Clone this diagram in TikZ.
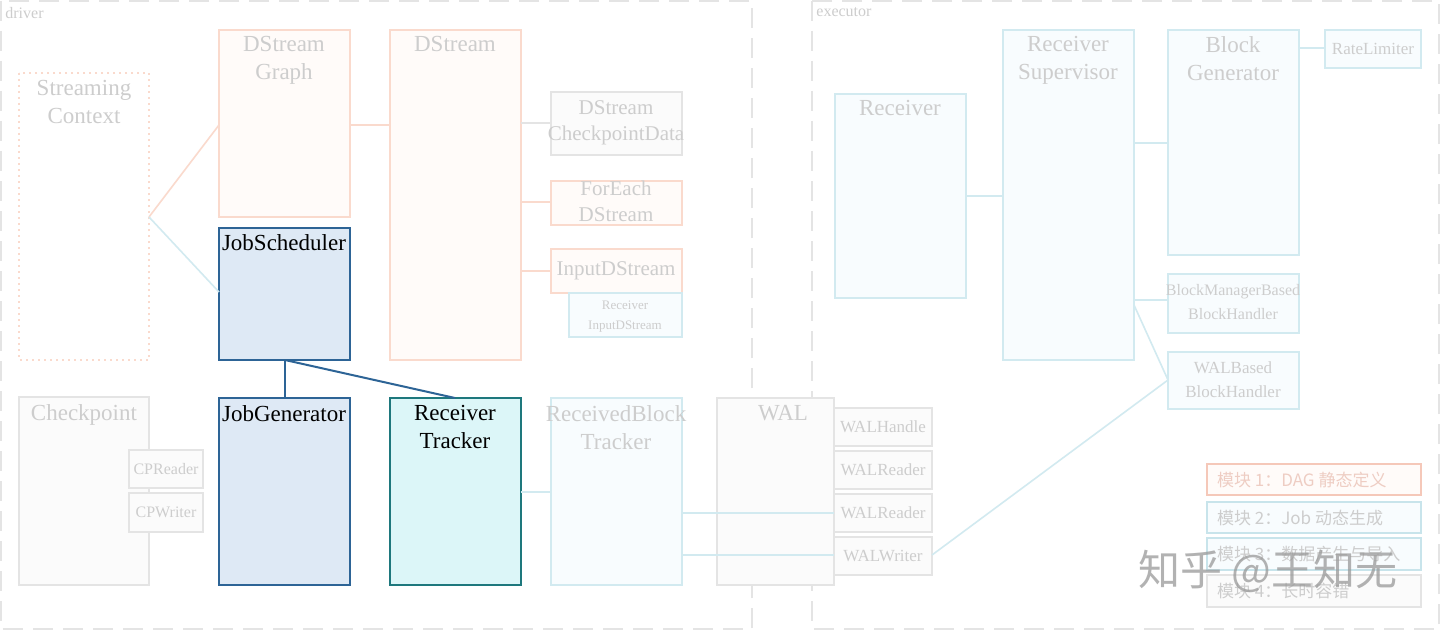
\documentclass[tikz,border=0pt]{standalone}
\usepackage{fontspec}
\setmainfont{Liberation Serif}
\newfontfamily\cjk{Noto Sans CJK SC}
\begin{document}
\begin{tikzpicture}[x=0.5pt,y=-0.5pt,
  txt/.style={font=\fontsize{11.5}{14}\selectfont},
  ob/.style={draw=orB,fill=orF,line width=0.8pt},
  gb/.style={draw=grB,fill=grF,line width=0.8pt},
  tb/.style={draw=tlB,fill=tlF,line width=0.8pt},
  oline/.style={draw=orB,line width=0.8pt},
  tline/.style={draw=tlB,line width=0.8pt},
  gline/.style={draw=grB,line width=0.8pt},
  lbl/.style={anchor=north,align=center,txt,inner sep=0pt}]
\definecolor{orB}{RGB}{250,218,205}\definecolor{orF}{RGB}{255,251,249}
\definecolor{grB}{RGB}{228,228,228}\definecolor{grF}{RGB}{251,251,251}
\definecolor{tlB}{RGB}{210,234,240}\definecolor{tlF}{RGB}{248,252,254}
\definecolor{ftxt}{RGB}{205,205,205}\definecolor{otxt}{RGB}{238,205,195}
\definecolor{jsF}{RGB}{222,233,245}\definecolor{jsB}{RGB}{45,100,150}
\definecolor{rtF}{RGB}{220,246,248}\definecolor{rtB}{RGB}{30,120,125}
\useasboundingbox (0,0) rectangle (1440,631);
\fill[white] (0,0) rectangle (1440,631);
% regions
\draw[grB,dashed,dash pattern=on 10pt off 5pt,line width=0.8pt] (1,1) rectangle (752,629);
\draw[grB,dashed,dash pattern=on 10pt off 5pt,line width=0.8pt] (812,1) rectangle (1439,629);
\node[anchor=north west,inner sep=1pt,font=\fontsize{8}{9}\selectfont,text=ftxt] at (3,5) {driver};
\node[anchor=north west,inner sep=1pt,font=\fontsize{8}{9}\selectfont,text=ftxt] at (814,5) {executor};
% driver boxes
\draw[draw=orB,dotted,line width=1pt,fill=white] (19,73) rectangle (149,360);
\node[lbl,text=ftxt] (sc) at (84,80) {Streaming\\Context};
\draw[ob] (219,30) rectangle (350,217);
\node[lbl,text=ftxt] (dsg) at (284,36) {DStream\\Graph};
\draw[ob] (390,30) rectangle (521,360);
\node[lbl,text=ftxt] (ds) at (455,36) {DStream};
\draw[gb] (551,92) rectangle (682,155);
\node[lbl,text=ftxt,font=\fontsize{10.5}{13}\selectfont] at (616,100) {DStream\\CheckpointData};
\draw[ob] (551,181) rectangle (682,225);
\node[lbl,text=ftxt,font=\fontsize{10.5}{13}\selectfont] at (616,181) {ForEach\\DStream};
\draw[ob] (551,249) rectangle (682,293);
\node[lbl,text=ftxt,font=\fontsize{10.5}{13}\selectfont] at (616,261) {InputDStream};
\draw[tb] (569,293) rectangle (682,337);
\node[lbl,text=ftxt,font=\fontsize{6.5}{10}\selectfont] at (625,300) {Receiver\\InputDStream};
\draw[fill=jsF,draw=jsB,line width=1pt] (219,228) rectangle (350,360);
\node[lbl,text=black] (js) at (284,234) {JobScheduler};
\draw[gb] (19,397) rectangle (149,585);
\node[lbl,text=ftxt] at (84,404) {Checkpoint};
\draw[gb] (129,450) rectangle (203,488);
\node[text=ftxt,font=\fontsize{8}{9}\selectfont] at (166,469) {CPReader};
\draw[gb] (129,493) rectangle (203,532);
\node[text=ftxt,font=\fontsize{8}{9}\selectfont] at (166,512) {CPWriter};
\draw[fill=jsF,draw=jsB,line width=1pt] (219,398) rectangle (350,585);
\node[lbl,text=black] (jg) at (284,405) {JobGenerator};
\draw[fill=rtF,draw=rtB,line width=1pt] (390,398) rectangle (521,585);
\node[lbl,text=black] (rt) at (455,405) {Receiver\\Tracker};
\draw[tb] (551,398) rectangle (682,585);
\node[lbl,text=ftxt] at (616,405) {ReceivedBlock\\Tracker};
\draw[gb] (717,398) rectangle (834,585);
\node[lbl,text=ftxt] at (783,405) {WAL};
\foreach \y/\t in {408/WALHandle,451/WALReader,494/WALReader,537/WALWriter}{
  \draw[gb] (834,\y) rectangle (932,\y+38);
  \node[text=ftxt,font=\fontsize{8.5}{10}\selectfont] at (883,\y+19) {\t};}
% executor
\draw[tb] (835,94) rectangle (966,298);
\node[lbl,text=ftxt] at (900,100) {Receiver};
\draw[tb] (1003,30) rectangle (1134,360);
\node[lbl,text=ftxt] at (1068,36) {Receiver\\Supervisor};
\draw[tb] (1168,30) rectangle (1299,255);
\node[lbl,text=ftxt] at (1233,36) {Block\\Generator};
\draw[tb] (1325,30) rectangle (1421,68);
\node[text=ftxt,font=\fontsize{8.5}{10}\selectfont] at (1373,49) {RateLimiter};
\draw[tb] (1168,274) rectangle (1299,333);
\node[text=ftxt,font=\fontsize{8}{12}\selectfont,align=center] at (1233,302) {BlockManagerBased\\BlockHandler};
\draw[tb] (1168,352) rectangle (1299,409);
\node[text=ftxt,font=\fontsize{8.5}{12}\selectfont,align=center] at (1233,380) {WALBased\\BlockHandler};
% connectors
\draw[oline] (149,217) -- (219,125);
\draw[tline] (149,217) -- (219,292);
\draw[oline] (350,125) -- (390,125);
\draw[gline] (521,123) -- (551,123);
\draw[oline] (521,202) -- (551,202);
\draw[oline] (521,271) -- (551,271);
\draw[jsB,line width=1pt] (285,360) -- (285,398);
\draw[jsB,line width=1pt] (285,360) -- (455,398);
\draw[tline] (521,492) -- (551,492);
\draw[tline] (682,513) -- (834,513);
\draw[tline] (682,555) -- (834,555);
\draw[tline] (966,196) -- (1003,196);
\draw[tline] (1134,143) -- (1168,143);
\draw[tline] (1299,48) -- (1325,48);
\draw[tline] (1134,300) -- (1168,300);
\draw[tline] (1134,305) -- (1168,380);
\draw[tline] (932,555) -- (1168,380);
% legend
\definecolor{lgO}{RGB}{245,200,185}\definecolor{lgT}{RGB}{200,228,235}
\draw[draw=lgO,fill=orF,line width=0.8pt] (1207,464) rectangle (1421,495);
\node[anchor=west,text=otxt,font=\cjk\fontsize{8.5}{10}\selectfont] at (1210,480) {模块 1：DAG 静态定义};
\draw[draw=lgT,fill=tlF,line width=0.8pt] (1207,502) rectangle (1421,533);
\node[anchor=west,text=ftxt,font=\cjk\fontsize{8.5}{10}\selectfont] at (1210,518) {模块 2：Job 动态生成};
\draw[draw=lgT,fill=tlF,line width=0.8pt] (1207,538) rectangle (1421,570);
\node[anchor=west,text=ftxt,font=\cjk\fontsize{8.5}{10}\selectfont] at (1210,554) {模块 3：数据产生与导入};
\draw[draw=grB,fill=grF,line width=0.8pt] (1207,575) rectangle (1421,607);
\node[anchor=west,text=ftxt,font=\cjk\fontsize{8.5}{10}\selectfont] at (1210,591) {模块 4：长时容错};
\node[text=black!40,font=\cjk\fontsize{21}{24}\selectfont,opacity=0.75] at (1268,571) {知乎 @王知无};
\end{tikzpicture}
\end{document}
